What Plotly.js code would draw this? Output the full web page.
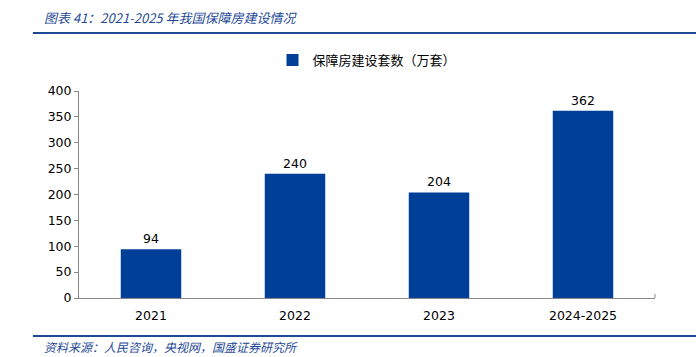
<!DOCTYPE html>
<html><head><meta charset="utf-8">
<script src="https://cdn.plot.ly/plotly-3.0.1.min.js"></script>
<style>body{margin:0;padding:0;background:#fff}#chart{width:696px;height:357px}</style>
</head><body><div id="chart"></div>
<script>
const categories = ['2021', '2022', '2023', '2024-2025'];
const values = [94, 240, 204, 362];
const seriesName = '保障房建设套数（万套）';
const yTicks = [0, 50, 100, 150, 200, 250, 300, 350, 400];

const blue = '#003F98';
const cjk = '"Noto Sans CJK SC", "Noto Sans", sans-serif';
const num = '"DejaVu Sans", Verdana, sans-serif';

const trace = {
  type: 'bar', x: categories, y: values, name: seriesName,
  marker: {color: blue},
  text: values.map(String), textposition: 'outside', cliponaxis: false,
  textfont: {family: num, size: 12.5, color: '#000'},
  width: 0.42
};

const layout = {
  width: 696, height: 357,
  margin: {l: 79, r: 41, t: 91, b: 59},
  paper_bgcolor: '#fff', plot_bgcolor: '#fff',
  showlegend: true,
  legend: {x: 0.5, xanchor: 'center', y: 1.15, yanchor: 'middle', orientation: 'h',
    font: {family: cjk, size: 13, color: '#000'}, itemwidth: 30},
  xaxis: {type: 'category', showline: true, linecolor: '#888', linewidth: 1,
    ticks: '', ticklabelstandoff: 6, tickfont: {family: num, size: 12.5, color: '#000'},
    fixedrange: true},
  yaxis: {range: [0, 400], tickvals: yTicks, showgrid: false, zeroline: false,
    showline: true, linecolor: '#888', linewidth: 1, ticks: 'outside', ticklen: 4, tickcolor: '#888',
    tickfont: {family: num, size: 12.5, color: '#000'},
    fixedrange: true},
  annotations: [
    {xref: 'paper', yref: 'paper', x: -0.065, y: 1.353, xanchor: 'left', yanchor: 'middle',
     text: '<i>图表 41：2021-2025 年我国保障房建设情况</i>', showarrow: false,
     font: {family: cjk, size: 13, color: '#1F4A96'}},
    {xref: 'paper', yref: 'paper', x: -0.065, y: -0.232, xanchor: 'left', yanchor: 'middle',
     text: '<i>资料来源：人民咨询，央视网，国盛证券研究所</i>', showarrow: false,
     font: {family: cjk, size: 12, color: '#1F4A96'}}
  ],
  shapes: [
    {type: 'line', xref: 'paper', yref: 'paper', x0: -0.08, x1: 1.08, y0: 1.28, y1: 1.28,
     line: {color: '#1F4A96', width: 2}},
    {type: 'line', xref: 'paper', yref: 'paper', x0: -0.08, x1: 1.08, y0: -0.184, y1: -0.184,
     line: {color: '#1F4A96', width: 2}},
    {type: 'line', xref: 'paper', yref: 'y', x0: 1, x1: 1, y0: 0, y1: 8,
     line: {color: '#888', width: 1}}
  ]
};

Plotly.newPlot('chart', [trace], layout, {displayModeBar: false, staticPlot: true});
</script></body></html>
